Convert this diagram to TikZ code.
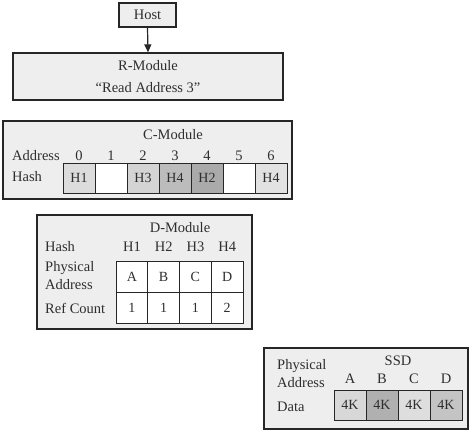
\documentclass[tikz,border=0pt]{standalone}
\usepackage{fontspec}
\setmainfont{Liberation Serif}
\usetikzlibrary{arrows.meta}
\definecolor{bg}{HTML}{EEEEEE}
\definecolor{ink}{HTML}{2E2E2E}
\definecolor{line}{HTML}{262626}
\definecolor{gA}{HTML}{DCDCDC}
\definecolor{gB}{HTML}{D4D4D4}
\definecolor{gC}{HTML}{BCBCBC}
\definecolor{gD}{HTML}{AAAAAA}
\definecolor{gE}{HTML}{E2E2E2}
\definecolor{sA}{HTML}{D8D8D8}
\definecolor{sB}{HTML}{B0B0B0}
\definecolor{sC}{HTML}{DEDEDE}
\definecolor{sD}{HTML}{C4C4C4}
\tikzset{
  modbox/.style={draw=line, fill=bg, line width=1.3pt},
  cellbox/.style={draw=line, line width=1pt, minimum width=32pt, minimum height=30pt, inner sep=0pt, text=ink, font=\fontsize{14}{16}\selectfont},
  lbl/.style={text=ink, inner sep=0pt, font=\fontsize{14.5}{16}\selectfont},
}
\begin{document}
\begin{tikzpicture}[x=1pt,y=-1pt]
\useasboundingbox[fill=white] (0,0) rectangle (474,434);
% Host
\node[draw=line, fill=bg, line width=1.3pt, minimum width=57pt, minimum height=24pt, inner sep=0pt, lbl] (host) at (147.5,15) {Host};
% R-Module
\node[modbox, minimum width=270pt, minimum height=47pt, inner sep=0pt] (rmod) at (148,76.5) {};
\node[lbl] (rtitle) at (148,66) {R-Module};
\node[lbl] (rtext) at (148,88) {“Read Address 3”};
\draw[line width=1.2pt, line, -{Triangle[length=8pt,width=7pt]}] (host.south) -- (rmod.north);
% C-Module
\node[modbox, minimum width=289pt, minimum height=78pt, inner sep=0pt] (cmod) at (147.5,160) {};
\node[lbl] (ctitle) at (173,135) {C-Module};
\node[lbl] (caddr) at (36,156) {Address};
\node[lbl, anchor=west] (chash) at (12,177) {Hash};
\foreach \i/\t/\c in {0/H1/gA,1//white,2/H3/gB,3/H4/gC,4/H2/gD,5//white,6/H4/gE}{
  \node[cellbox, fill=\c] (cc\i) at (79+\i*32,178) {\t};
  \node[lbl] (ca\i) at (79+\i*32,156) {\i};
}
% D-Module
\node[modbox, minimum width=215pt, minimum height=114pt, inner sep=0pt] (dmod) at (144.5,272) {};
\node[lbl] (dtitle) at (180,228) {D-Module};
\node[lbl, anchor=west] (dhash) at (45,247) {Hash};
\node[lbl, anchor=west] (dphys) at (45,268) {Physical};
\node[lbl, anchor=west] (daddr) at (45,285) {Address};
\node[lbl, anchor=west] (dref) at (45,308) {Ref Count};
\foreach \i/\h/\p/\r in {0/H1/A/1,1/H2/B/1,2/H3/C/1,3/H4/D/2}{
  \node[lbl] (dh\i) at (131.9+\i*31.75,247) {\h};
  \node[cellbox, minimum width=31.75pt, minimum height=31pt, fill=white] (dp\i) at (131.9+\i*31.75,276.5) {\p};
  \node[cellbox, minimum width=31.75pt, minimum height=31pt, fill=white] (dr\i) at (131.9+\i*31.75,307.5) {\r};
}
% SSD
\node[modbox, minimum width=204pt, minimum height=81pt, inner sep=0pt] (ssd) at (366,388.5) {};
\node[lbl] (stitle) at (398,361) {SSD};
\node[lbl, anchor=west] (sphys) at (277,366) {Physical};
\node[lbl, anchor=west] (saddr) at (277,383) {Address};
\node[lbl, anchor=west] (sdata) at (277,407) {Data};
\foreach \i/\p/\c in {0/A/sA,1/B/sB,2/C/sC,3/D/sD}{
  \node[lbl] (sp\i) at (350+\i*32,379) {\p};
  \node[cellbox, fill=\c] (sc\i) at (350+\i*32,405) {4K};
}
\end{tikzpicture}
\end{document}
